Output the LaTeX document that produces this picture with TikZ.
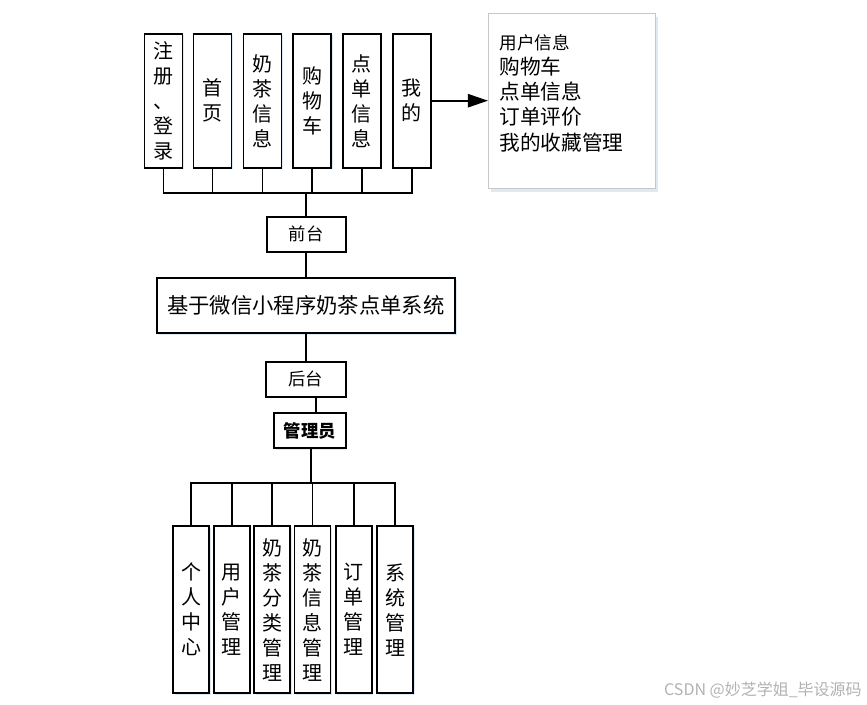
\documentclass[tikz,border=0pt]{standalone}
\usepackage{fontspec}
\newfontfamily\cjk{Noto Sans CJK SC}
\usetikzlibrary{arrows.meta,shadows}
\definecolor{shblue}{RGB}{222,233,246}
\begin{document}
\begin{tikzpicture}[x=0.75pt,y=-0.75pt,
  conn/.style={line width=1.25pt, black},
  vbox/.style={draw, line width=1.3pt, inner sep=0pt, align=center,
    font=\cjk\fontsize{15}{18.75}\selectfont,
    drop shadow={shadow xshift=1.2pt, shadow yshift=-1.2pt, fill=shblue, opacity=1}, fill=white},
  topbox/.style={vbox, minimum width=28.5pt, minimum height=100.5pt},
  botbox/.style={vbox, minimum width=27pt, minimum height=125.25pt},
  hbox/.style={draw, line width=1.3pt, inner sep=0pt, align=center,
    font=\cjk\fontsize{13}{16}\selectfont, minimum height=26.3pt,
    drop shadow={shadow xshift=1.2pt, shadow yshift=-1.2pt, fill=shblue, opacity=1}, fill=white},
  rbox/.style={draw=black!22, line width=0.7pt, fill=white, minimum width=125pt, minimum height=131.2pt,
    drop shadow={shadow xshift=2pt, shadow yshift=-2.5pt, fill=shblue, opacity=1}}
]
\useasboundingbox (0,0) rectangle (867,705);

% top row
\node[topbox] (t1) at (163.5,100.8) {注\\册\\、\\登\\录};
\node[topbox] (t2) at (212.5,100.8) {首\\页};
\node[topbox] (t3) at (262.5,100.8) {奶\\茶\\信\\息};
\node[topbox] (t4) at (312.2,100.8) {购\\物\\车};
\node[topbox] (t5) at (361.7,100.8) {点\\单\\信\\息};
\node[topbox] (t6) at (411.7,100.8) {我\\的};

% right info box
\node[rbox] (rb) at (571.7,100.8) {};
\node[anchor=north west, inner sep=0pt, align=left,
  font=\cjk\fontsize{15.5}{18.9}\selectfont] (rt) at (499.3,34)
  {{\fontsize{13.2}{18.9}\selectfont 用户信息}\\购物车\\点单信息\\订单评价\\我的收藏管理};
\draw[conn, -{Triangle[length=15pt,width=10pt]}] (t6.east |- 0,100.7) coordinate (a0) -- (rb.west |- a0);

% middle
\node[hbox, minimum width=59.3pt] (qt) at (306.2,234.3) {前台};
\node[hbox, minimum width=223.7pt, minimum height=41.25pt,
  font=\cjk\fontsize{16}{19}\selectfont] (sys) at (305.8,305.8) {基于微信小程序奶茶点单系统};
\node[hbox, minimum width=59.8pt] (ht) at (305.8,379.2) {后台};
\node[hbox, minimum width=53.8pt, minimum height=26.7pt,
  font=\cjk\bfseries\fontsize{13}{16}\selectfont] (gly) at (309.8,430.5) {管理员};

% bottom row
\node[botbox] (b1) at (191.3,609.7) {个\\人\\中\\心};
\node[botbox] (b2) at (231.8,609.7) {用\\户\\管\\理};
\node[botbox] (b3) at (272.2,609.7) {奶\\茶\\分\\类\\管\\理};
\node[botbox] (b4) at (312.5,609.7) {奶\\茶\\信\\息\\管\\理};
\node[botbox] (b5) at (353.7,609.7) {订\\单\\管\\理};
\node[botbox] (b6) at (395.3,609.7) {系\\统\\管\\理};

% top bus
\coordinate (tb) at (306.2,193.3);
\draw[conn] (t1.south) |- (t6.south |- tb) -- (t6.south);
\foreach \n in {t2,t3,t4,t5} \draw[conn] (\n.south) -- (\n.south |- tb);
\draw[conn] (tb) -- (qt.north);
\draw[conn] (qt.south) -- (sys.north -| qt.south);
\draw[conn] (sys.south) -- (ht.north);
\coordinate (hg) at (315.7,396.7);
\draw[conn] (ht.south -| hg) -- (gly.north -| hg);

% bottom bus
\coordinate (bb) at (310.7,482.7);
\draw[conn] (gly.south -| bb) -- (bb);
\draw[conn] (b1.north) |- (b6.north |- bb) -- (b6.north);
\foreach \n in {b2,b3,b4,b5} \draw[conn] (\n.north) -- (\n.north |- bb);

% watermark
\node[anchor=east, inner sep=0pt, text=black!30, font=\cjk\fontsize{12}{14}\selectfont] (wm) at (862,690) {CSDN @妙芝学姐\_毕设源码};
\end{tikzpicture}
\end{document}
